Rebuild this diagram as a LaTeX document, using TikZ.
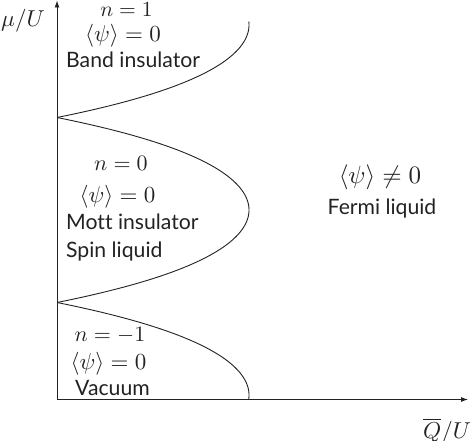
\documentclass[tikz,border=0pt]{standalone}
\usepackage{graphicx}
\usepackage{fontspec}
\setsansfont{Lato}[Ligatures={NoCommon}]
\usetikzlibrary{arrows.meta}
\definecolor{ink}{HTML}{222222}
\newcommand{\mlbl}[2][2.3]{\scalebox{#1}{$#2$}}
\tikzset{
  mth/.style={anchor=base, text=ink, inner sep=0pt},
  lbl/.style={anchor=base west, text=ink, inner sep=0pt, font=\sffamily\fontsize{21.2}{25}\selectfont},
  curve/.style={draw=ink, line width=0.9pt},
  axis/.style={draw=ink, line width=0.9pt, -{Latex[length=7pt,width=5pt]}}
}
\begin{document}
\begin{tikzpicture}[x=1pt,y=-1pt]
\useasboundingbox (0,0) rectangle (474,441);
% axes
\coordinate (O) at (57,399.5);
\coordinate (ytop) at (57,0.5);
\coordinate (xend) at (468,399.5);
\draw[axis] (O) -- (ytop);
\draw[axis] (O) -- (xend);
% lobes
\draw[curve] plot[domain=-0.036:1, samples=80, smooth] ({57+192*(1-\x*\x)*(1+0.2*\x*\x)}, {25+92.5*\x});
\draw[curve] plot[domain=-1:1, samples=120, smooth] ({57+192*(1-\x*\x)*(1+0.2*\x*\x)}, {210+92.5*\x});
\draw[curve] plot[domain=-1:0.045, samples=80, smooth] ({57+192*(1-\x*\x)*(1+0.2*\x*\x)}, {395+92.5*\x});
% axis labels
\node[mth, anchor=base west] (mu) at (1,27) {\mlbl{\mu/U}};
\node[mth, anchor=base west] (QU) at (423,438) {\mlbl{\overline{Q}/U}};
% top region
\node[mth] (n1) at (126.5,16.5) {\mlbl[2.15]{n=1}};
\node[mth] (p1) at (123,41.5) {\mlbl{\langle\psi\rangle=0}};
\node[lbl] (band) at (66,68) {Band insulator};
% middle region
\node[mth] (n0) at (121,171) {\mlbl[2.2]{n=0}};
\node[mth] (p0) at (117.5,202.5) {\mlbl{\langle\psi\rangle=0}};
\node[lbl] (mott) at (66,229) {Mott insulator};
\node[lbl] (spin) at (66,257.5) {Spin liquid};
% bottom region
\node[mth] (nm1) at (110,341.5) {\mlbl[2.2]{n=-1}};
\node[mth] (pm1) at (108.5,369) {\mlbl{\langle\psi\rangle=0}};
\node[lbl] (vac) at (75,395) {Vacuum};
% right region
\node[mth] (pf) at (380,183) {\mlbl[2.5]{\langle\psi\rangle\neq0}};
\node[lbl, anchor=base] (fermi) at (382,214) {Fermi liquid};
\end{tikzpicture}
\end{document}
